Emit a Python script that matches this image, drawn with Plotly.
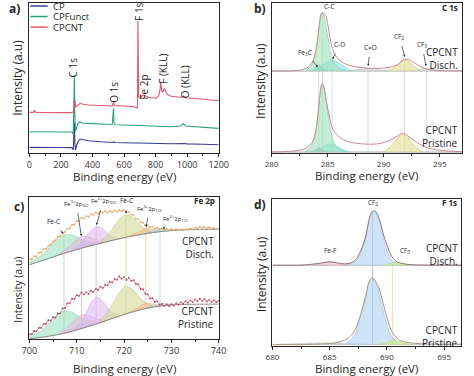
import plotly.graph_objects as go

FONT = "Open Sans"
INK = "#262626"

# ---------------- (a) survey spectra ----------------
cp_x = [0, 30, 35, 40, 100, 200, 270, 278, 282, 285, 288, 292, 300, 310, 322, 335, 350, 372, 450, 530,
        535, 540, 600, 700, 800, 900, 975, 1000, 1100, 1200]
cp_y = [5.7, 5.7, 6.2, 5.7, 5.6, 5.5, 5.4, 3.0, 18.0, 31.0, 10.0, 3.0, 8.0, 12.0, 14.0, 13.5, 12.8, 12.2, 11.3, 10.5,
        11.5, 10.5, 10.3, 9.9, 9.6, 9.3, 9.6, 9.2, 8.8, 8.3]
cpf_x = [0, 100, 200, 270, 278, 282, 285, 288, 292, 300, 310, 320, 335, 372, 450, 525, 531, 533, 536, 545,
         600, 700, 800, 900, 960, 975, 990, 1100, 1200]
cpf_y = [21.3, 21.3, 21.2, 21.1, 19.0, 50.0, 78.0, 35.0, 22.0, 26.0, 30.0, 31.3, 30.0, 29.7, 29.0, 28.5, 40.0, 44.7, 30.0, 28.3,
         28.0, 27.3, 26.8, 26.3, 27.0, 29.5, 27.0, 25.6, 24.7]
cnt_x = [0, 25, 32, 38, 45, 100, 200, 270, 280, 285, 289, 293, 300, 310, 322, 340, 372, 450, 525, 531,
         534, 538, 600, 650, 680, 685, 688, 690, 693, 700, 710, 720, 735, 760, 800, 820, 828, 833, 838, 845,
         855, 862, 875, 900, 950, 970, 978, 990, 1050, 1100, 1200]
cnt_y = [40.7, 40.7, 42.5, 40.9, 40.7, 40.6, 40.5, 40.4, 41.5, 50.0, 53.0, 46.0, 47.0, 48.5, 49.7, 48.7, 48.0, 47.5, 47.0, 49.5,
         52.0, 47.5, 47.0, 46.5, 45.5, 44.5, 132.0, 70.0, 56.0, 55.0, 56.5, 58.0, 57.0, 55.5, 54.8, 57.0, 63.0, 71.3, 63.0, 60.5,
         64.5, 62.0, 58.5, 56.8, 55.8, 55.6, 57.0, 55.2, 54.5, 53.8, 52.3]
survey_names = ["CP", "CPFunct", "CPCNT"]
survey_colors = ["#3a3d92", "#2a9f78", "#e2586c"]
survey_labels = ["C 1s", "O 1s", "F 1s", "Fe 2p", "F (KLL)", "O (KLL)"]
survey_label_x = [279, 535, 694, 724, 846, 988]
survey_label_y = [86, 61, 141, 66, 84, 71]

# ---------------- (b) C 1s ----------------
b_base_x = [280, 297]
b_dis_base = [82, 82]
b_pri_base = [1, 1]
b_dis_env_x = [280, 282, 282.87, 283.3, 283.72, 284.0, 284.24, 284.44, 284.58, 284.73, 284.87, 285.1, 285.3,
               285.59, 286.02, 286.59, 287.45, 288.88, 290.3, 291.17, 291.89, 292.32, 292.89, 293.47, 294.33, 297]
b_dis_env_y = [82, 82.3, 83.7, 86.3, 93, 106.3, 126.3, 139.7, 140.3, 139, 136.3, 123, 109.7,
               99.7, 93, 89, 86.3, 84.7, 85.3, 88, 93.7, 93, 89, 85.3, 83, 82]
b_pri_env_x = [280, 282.58, 283.3, 283.72, 284.0, 284.24, 284.44, 284.53, 284.67, 284.87, 285.16, 285.44,
               286.02, 286.88, 288.31, 289.74, 290.89, 291.6, 291.89, 292.46, 293.18, 294.04, 295.47, 297]
b_pri_env_y = [1, 3, 6.3, 13, 26.3, 49.7, 68, 69.7, 66.3, 53, 36.3, 24.7,
               16.3, 11.3, 9, 9.7, 14.7, 19.7, 19, 14.7, 9, 4.7, 2.3, 1.3]
b_cc_x = [283.0, 283.4, 283.75, 284.0, 284.2, 284.35, 284.5, 284.65, 284.8, 285.0, 285.3, 285.6, 286.0, 286.6]
b_dis_cc_y = [82.0, 85.5, 91.3, 104.0, 121.4, 134.2, 140.0, 137.7, 131.3, 116.8, 99.4, 89.5, 84.9, 82.0]
b_pri_cc_y = [1.0, 5.0, 11.7, 26.5, 46.6, 61.3, 68.0, 65.3, 58.0, 41.2, 21.1, 9.7, 4.4, 1.0]
b_fe3c_x = [283.4, 283.8, 284.0, 284.2, 284.4, 284.6, 285.0]
b_dis_fe3c_y = [82, 84.1, 87.3, 89, 87.3, 84.1, 82]
b_pri_fe3c_y = [1, 2.2, 4, 5, 4, 2.2, 1]
b_dis_co_x = [283.6, 284.3, 284.8, 285.1, 285.4, 285.7, 286.0, 286.5, 287.2]
b_dis_co_y = [82, 86.0, 90.0, 92.2, 93, 92.2, 90.0, 86.0, 82]
b_pri_co_x = [283.4, 284.1, 284.6, 284.9, 285.2, 285.5, 285.8, 286.3, 287.0]
b_pri_co_y = [1, 3.9, 6.8, 8.4, 9, 8.4, 6.8, 3.9, 1]
b_dis_c2o_x = [286.8, 287.6, 288.1, 288.6, 289.1, 289.6, 290.4]
b_dis_c2o_y = [82, 83.3, 84.1, 84.5, 84.1, 83.3, 82]
b_dis_cf2_x = [290.4, 290.9, 291.3, 291.6, 291.9, 292.2, 292.5, 292.9, 293.4]
b_dis_cf2_y = [82, 85.3, 88.8, 92.1, 93.5, 92.1, 88.8, 85.3, 82]
b_pri_cf2_x = [290.0, 290.6, 291.0, 291.35, 291.7, 292.05, 292.4, 292.8, 293.4]
b_pri_cf2_y = [1, 6.6, 11.4, 16.8, 19, 16.8, 11.4, 6.6, 1]
b_dis_cf3_x = [292.5, 293.1, 293.5, 293.8, 294.1, 294.5, 295.1]
b_dis_cf3_y = [82, 83, 84.1, 84.5, 84.1, 83, 82]
b_vl_x = [284.2, 284.55, 285.4, 288.6, 291.85, 293.8]
b_vl_top = [89, 140, 93, 85, 94, 85]
b_vl_bot = [1, 1, 1, 1, 1, 1]

# ---------------- (c) Fe 2p ----------------
c_dis_y = [79.8, 80.1, 83.0, 82.6, 86.1, 86.6, 89.8, 90.2, 93.5, 94.3,
           97.6, 98.9, 102.4, 102.9, 106.5, 107.0, 110.5, 110.6, 114.2, 114.5,
           118.0, 117.9, 121.2, 120.5, 123.0, 122.4, 124.8, 124.0, 126.6, 125.5,
           127.4, 126.2, 127.9, 126.5, 128.3, 126.9, 128.7, 127.2, 129.1, 127.7,
           128.9, 126.8, 127.2, 124.5, 123.9, 120.5, 119.7, 116.7, 116.4, 113.9,
           113.9, 111.7, 112.2, 110.4, 111.3, 109.6, 110.6, 109.1, 110.2, 108.8,
           109.9, 108.7, 109.8, 108.8, 110.0, 108.9, 110.1, 109.3, 110.7, 110.0,
           111.6, 110.8, 112.3, 111.2, 112.2, 110.9, 111.6, 110.4, 111.1, 109.9,
           110.6]
c_pri_y = [4.9, 5.0, 8.2, 8.0, 11.4, 11.2, 15.3, 15.4, 19.1, 18.6,
           22.2, 21.5, 25.6, 25.8, 30.8, 31.1, 35.7, 36.0, 40.4, 40.1,
           43.9, 43.2, 46.6, 44.7, 47.0, 45.2, 48.4, 47.0, 50.3, 49.2,
           52.4, 51.0, 54.5, 53.9, 57.4, 56.6, 60.2, 59.3, 62.6, 60.4,
           62.0, 59.2, 61.4, 58.3, 58.9, 55.0, 54.8, 50.2, 49.9, 45.3,
           44.8, 40.6, 40.9, 37.2, 37.8, 34.4, 35.1, 33.1, 34.8, 32.9,
           34.9, 33.5, 35.8, 34.4, 36.8, 35.4, 37.9, 36.3, 38.8, 37.2,
           39.6, 38.0, 40.4, 38.3, 39.9, 37.7, 39.3, 37.2, 38.9, 37.0,
           38.2]
c_x = [700 + 0.5 * i for i in range(len(c_dis_y))]
c_bg_x = [700, 702, 704, 706, 708, 710, 712, 714, 716, 718, 720, 722, 724, 726, 728, 730, 732, 734, 736, 738, 740]
c_dis_bg = [74.3, 77.5, 80.5, 83.7, 86.7, 89.5, 92.2, 94.6, 97.0, 99.3, 101.4, 103.3, 105.0, 106.5, 107.6, 108.4,
            109.0, 109.4, 109.6, 109.7, 109.8]
c_pri_bg = [0.5, 1.5, 2.8, 4.5, 6.7, 9.2, 12.0, 15.0, 18.2, 21.5, 24.6, 27.5, 30.0, 32.0, 33.4, 34.2,
            34.6, 34.8, 34.9, 35.0, 35.0]
c_fec1_x = [700, 702.3, 703.8, 705.3, 707.3, 709.3, 710.8, 712.3, 714.3, 716]
c_fe3a_x = [706.1, 707.6, 708.6, 709.9, 711.1, 712.3, 713.6, 714.6, 716.1]
c_fe2a_x = [709.6, 710.9, 711.9, 713.0, 714.1, 715.2, 716.3, 717.3, 718.6]
c_fec2_x = [714.8, 716.5, 717.6, 718.9, 720.3, 721.7, 723.0, 724.1, 725.8]
c_fe3b_x = [721.0, 722.2, 723.0, 723.8, 724.5, 725.2, 726.0, 726.8, 728.0]
c_fe2b_x = [724.1, 725.3, 726.1, 726.9, 727.6, 728.3, 729.1, 729.9, 731.1]
c_dis_base = {
    "fec1": [74.3, 77.9, 80.2, 82.5, 85.7, 88.7, 90.9, 92.6, 95.0, 97.0],
    "fe3a": [84.0, 86.1, 87.5, 89.3, 90.9, 92.5, 94.3, 95.3, 97.1],
    "fe2a": [89.9, 91.0, 92.1, 93.4, 94.7, 96.0, 97.3, 98.4, 99.9],
    "fec2": [95.5, 97.5, 98.8, 100.1, 101.7, 103.0, 104.1, 105.1, 106.4],
    "fe3b": [102.4, 103.5, 104.1, 104.7, 105.3, 105.8, 106.5, 107.0, 107.6],
    "fe2b": [105.0, 106.0, 106.6, 107.1, 107.5, 107.8, 108.2, 108.4, 108.7],
}
c_dis_h = {
    "fec1": [3.0, 4.6, 9.5, 15.1, 19, 15.1, 9.5, 4.6, 1.2, 0.2],
    "fe3a": [0.75, 3.1, 6, 10.2, 12, 10.2, 6, 3.1, 0.75],
    "fe2a": [1.1, 4.4, 9.3, 15.2, 18, 15.2, 9.3, 4.4, 1.1],
    "fec2": [1.4, 6.1, 11.8, 19.2, 23, 19.2, 11.8, 6.1, 1.4],
    "fe3b": [0.3, 1.5, 3, 4.5, 5, 4.5, 3, 1.5, 0.3],
    "fe2b": [0.2, 0.9, 1.8, 2.7, 3, 2.7, 1.8, 0.9, 0.2],
}
c_pri_base = {
    "fec1": [0.5, 1.7, 2.6, 3.9, 5.8, 8.1, 10.2, 12.4, 15.5, 18.2],
    "fe3a": [4.6, 6.1, 7.3, 8.9, 10.6, 12.4, 14.5, 16.0, 18.4],
    "fe2a": [8.7, 10.4, 11.9, 13.5, 15.2, 16.9, 18.7, 20.3, 22.5],
    "fec2": [16.3, 19.0, 20.8, 22.9, 25.1, 27.1, 28.8, 30.1, 31.8],
    "fe3b": [26.1, 27.8, 28.8, 29.8, 30.6, 31.2, 32.0, 32.6, 33.4],
    "fe2b": [30.1, 31.2, 32.0, 32.7, 33.2, 33.5, 33.9, 34.1, 34.5],
}
c_pri_h = {
    "fec1": [3.5, 5.6, 11.5, 18.3, 23, 18.3, 11.5, 5.6, 1.4, 0.2],
    "fe3a": [0.9, 3.6, 7, 11.9, 14, 11.9, 7, 3.6, 0.9],
    "fe2a": [1.7, 6.6, 13.9, 22.9, 27, 22.9, 13.9, 6.6, 1.7],
    "fec2": [1.75, 7.5, 14.4, 23.4, 28, 23.4, 14.4, 7.5, 1.75],
    "fe3b": [0.3, 1.5, 3, 4.5, 5, 4.5, 3, 1.5, 0.3],
    "fe2b": [0.2, 0.8, 1.5, 2.2, 2.5, 2.2, 1.5, 0.8, 0.2],
}
c_comp_x = {"fec1": c_fec1_x, "fe3a": c_fe3a_x, "fe2a": c_fe2a_x,
            "fec2": c_fec2_x, "fe3b": c_fe3b_x, "fe2b": c_fe2b_x}
c_comp_fill = {"fec1": "rgba(150,222,185,0.55)", "fe3a": "rgba(232,180,220,0.5)", "fe2a": "rgba(218,180,240,0.55)",
               "fec2": "rgba(212,218,150,0.6)", "fe3b": "rgba(245,185,140,0.55)", "fe2b": "rgba(160,222,232,0.55)"}
c_comp_line = {"fec1": "#9fd4b4", "fe3a": "#dab0cc", "fe2a": "#cdb0e0",
               "fec2": "#c4c88e", "fe3b": "#eab28a", "fe2b": "#9fd0da"}
c_vl_x = [707.3, 711.0, 714.1, 720.4, 724.6, 727.6]
c_vl_top = [104, 101, 113, 124, 111, 109]
c_vl_bot = [6, 10.6, 15.2, 25, 30.6, 33.2]
c_vl_col = ["#b8d8c4", "#d8c0d0", "#d0c0e0", "#d6d6b6", "#f0c8a8", "#b8e0e8"]

# ---------------- (d) F 1s ----------------
d_base_x = [680, 696.5]
d_dis_base = [80.7, 80.7]
d_pri_base = [1.5, 1.5]
d_dis_env_x = [680, 682.3, 683.7, 684.5, 685, 685.6, 686.3, 686.9, 687.3, 687.7, 688.2, 688.4, 688.7, 688.9,
               689.1, 689.4, 689.7, 690.1, 690.4, 690.8, 691.5, 692.6, 696.5]
d_dis_env_y = [80.7, 80.7, 82, 83.3, 84, 83.3, 82, 83.3, 86.3, 94.7, 111.3, 124.7, 134, 135.3,
               133, 124.7, 111.3, 98, 89.7, 84.7, 82, 81, 80.7]
d_pri_env_x = [680, 683.7, 685.9, 686.8, 687.3, 687.7, 688.2, 688.4, 688.7, 688.9, 689.3, 689.7, 690.1,
               690.5, 691.2, 692.3, 696.5]
d_pri_env_y = [1.3, 1.7, 4, 9.7, 18, 31.3, 51.3, 63, 68, 66.3, 58, 41.3, 24.7, 13, 5.3, 2.7, 1.7]
d_dis_cf2_x = [686.5, 687.3, 687.8, 688.2, 688.5, 688.7, 688.9, 689.1, 689.3, 689.6, 690.0, 690.5, 691.3]
d_dis_cf2_y = [80.7, 85.0, 95.3, 112.6, 126.1, 132.5, 134.7, 132.5, 126.1, 112.6, 95.3, 85.0, 80.7]
d_pri_cf2_x = [686.35, 687.15, 687.65, 688.05, 688.35, 688.55, 688.75, 688.95, 689.15, 689.45, 689.85, 690.35, 691.15]
d_pri_cf2_y = [1.5, 10.7, 27.9, 47.0, 59.9, 65.5, 67.5, 65.5, 59.9, 47.0, 27.9, 10.7, 1.5]
d_dis_cf3_x = [689.7, 690.2, 690.6, 690.9, 691.2, 691.6, 692.1]
d_dis_cf3_y = [80.7, 82.05, 83.25, 83.7, 83.25, 82.05, 80.7]
d_pri_cf3_x = [689.4, 690.0, 690.4, 690.7, 691.0, 691.4, 692.0]
d_pri_cf3_y = [1.5, 3.3, 4.9, 5.5, 4.9, 3.3, 1.5]
d_dis_fef_x = [683.4, 684.2, 684.6, 685.0, 685.4, 685.8, 686.6]
d_dis_fef_y = [80.7, 82.2, 83.5, 84.0, 83.5, 82.2, 80.7]
d_pri_fef_x = [680.5, 682.0, 683.5, 684.5, 685.5, 687.0, 688.5]
d_pri_fef_y = [1.5, 2.2, 2.8, 3.0, 2.8, 2.2, 1.5]
d_vl_x = [688.75, 690.5]
d_vl_top = [135, 84]
d_vl_bot = [1.5, 1.5]
d_vl_col = ["#b0bccc", "#e8e2a0"]

# ======================================================
fig = go.Figure()


def line(x, y, ax, color, width=1.0, shape="linear", dash=None):
    fig.add_trace(go.Scatter(x=x, y=y, mode="lines", xaxis="x" + ax, yaxis="y" + ax,
                             line=dict(color=color, width=width, shape=shape, dash=dash),
                             showlegend=False, hoverinfo="skip"))


def area(x, y, ax, fill, color):
    fig.add_trace(go.Scatter(x=x, y=y, mode="lines", xaxis="x" + ax, yaxis="y" + ax, fill="toself",
                             fillcolor=fill, line=dict(color=color, width=0.6, shape="spline"),
                             showlegend=False, hoverinfo="skip"))


def band(x, base, h, ax, fill, color):
    top = [b + v for b, v in zip(base, h)]
    fig.add_trace(go.Scatter(x=x + x[::-1], y=top + base[::-1], mode="lines", xaxis="x" + ax, yaxis="y" + ax,
                             fill="toself", fillcolor=fill, line=dict(color=color, width=0.6),
                             showlegend=False, hoverinfo="skip"))


# (a)
for xs, ys, col in zip([cp_x, cpf_x, cnt_x], [cp_y, cpf_y, cnt_y], survey_colors):
    line(xs, ys, "", col, 1.1)

# (b)
for vx, vt, vb in zip(b_vl_x, b_vl_top, b_vl_bot):
    line([vx, vx], [vb, vt], "2", "#d4d4d4", 0.8)
line(b_base_x, b_dis_base, "2", "#9a9a9a", 0.8)
line(b_base_x, b_pri_base, "2", "#9a9a9a", 0.8)
area(b_dis_co_x, b_dis_co_y, "2", "rgba(120,222,232,0.55)", "#7cccd6")
area(b_pri_co_x, b_pri_co_y, "2", "rgba(120,222,232,0.55)", "#7cccd6")
area(b_fe3c_x, b_dis_fe3c_y, "2", "rgba(130,175,170,0.5)", "#8ab0aa")
area(b_fe3c_x, b_pri_fe3c_y, "2", "rgba(150,160,160,0.45)", "#a0a8a8")
area(b_cc_x, b_dis_cc_y, "2", "rgba(160,225,185,0.6)", "#86c89e")
area(b_cc_x, b_pri_cc_y, "2", "rgba(160,225,185,0.6)", "#86c89e")
area(b_dis_c2o_x, b_dis_c2o_y, "2", "rgba(200,200,200,0.5)", "#c0c0c0")
area(b_dis_cf2_x, b_dis_cf2_y, "2", "rgba(228,224,150,0.65)", "#cfc680")
area(b_pri_cf2_x, b_pri_cf2_y, "2", "rgba(228,224,150,0.65)", "#cfc680")
area(b_dis_cf3_x, b_dis_cf3_y, "2", "rgba(205,205,205,0.5)", "#c0c0c0")
line(b_dis_env_x, b_dis_env_y, "2", "#c58a92", 1.0, "spline")
line(b_pri_env_x, b_pri_env_y, "2", "#c58a92", 1.0, "spline")

# (c)
for vx, vt, vb, vc in zip(c_vl_x, c_vl_top, c_vl_bot, c_vl_col):
    line([vx, vx], [vb, vt], "3", vc, 0.9)
for key in ["fec1", "fe3a", "fe2a", "fec2", "fe3b", "fe2b"]:
    band(c_comp_x[key], c_dis_base[key], c_dis_h[key], "3", c_comp_fill[key], c_comp_line[key])
    band(c_comp_x[key], c_pri_base[key], c_pri_h[key], "3", c_comp_fill[key], c_comp_line[key])
line(c_bg_x, c_dis_bg, "3", "#8c8282", 0.9, "spline")
line(c_bg_x, c_pri_bg, "3", "#8c8282", 0.9, "spline")
fig.add_trace(go.Scatter(x=c_x, y=c_dis_y, mode="lines+markers", xaxis="x3", yaxis="y3",
                         line=dict(color="#d9b98a", width=0.8), marker=dict(color="#e6a65c", size=1.8),
                         showlegend=False, hoverinfo="skip"))
fig.add_trace(go.Scatter(x=c_x, y=c_pri_y, mode="lines+markers", xaxis="x3", yaxis="y3",
                         line=dict(color="#c9788a", width=0.8), marker=dict(color="#b8455a", size=1.8),
                         showlegend=False, hoverinfo="skip"))

# (d)
for vx, vt, vb, vc in zip(d_vl_x, d_vl_top, d_vl_bot, d_vl_col):
    line([vx, vx], [vb, vt], "4", vc, 0.9)
line(d_base_x, d_dis_base, "4", "#a0a0a0", 0.8)
line(d_base_x, d_pri_base, "4", "#b0b0b0", 0.8)
area(d_pri_fef_x, d_pri_fef_y, "4", "rgba(190,195,195,0.5)", "#c0c4c4")
area(d_dis_fef_x, d_dis_fef_y, "4", "rgba(235,170,185,0.5)", "#e0a0b0")
area(d_dis_cf2_x, d_dis_cf2_y, "4", "rgba(180,212,240,0.65)", "#9ebfe0")
area(d_pri_cf2_x, d_pri_cf2_y, "4", "rgba(180,212,240,0.65)", "#9ebfe0")
area(d_dis_cf3_x, d_dis_cf3_y, "4", "rgba(205,235,130,0.65)", "#c0dc80")
area(d_pri_cf3_x, d_pri_cf3_y, "4", "rgba(205,235,130,0.65)", "#c0dc80")
line(d_dis_env_x, d_dis_env_y, "4", "#8f7480", 1.0, "spline")
line(d_pri_env_x, d_pri_env_y, "4", "#a89a8c", 1.0, "spline")

# ---------------- axes ----------------
def xax(domain, anchor, rng, dtick, minor, size):
    return dict(domain=domain, anchor=anchor, range=rng, dtick=dtick, showgrid=False, zeroline=False,
                showline=True, mirror=True, linecolor=INK, linewidth=1, ticks="outside", ticklen=3,
                tickcolor=INK, tickwidth=1, tickfont=dict(family=FONT, size=size, color="#333"),
                minor=dict(dtick=minor, ticks="outside", ticklen=2, tickcolor=INK), fixedrange=True)


def yax(domain, anchor, rng):
    return dict(domain=domain, anchor=anchor, range=rng, showgrid=False, zeroline=False, showline=True,
                mirror=True, linecolor=INK, linewidth=1, ticks="", showticklabels=False, fixedrange=True)


fig.update_layout(
    width=474, height=376, margin=dict(l=0, r=0, t=0, b=0),
    paper_bgcolor="white", plot_bgcolor="white", showlegend=False,
    xaxis=xax([0.047, 0.462], "y", [0, 1200], 200, 100, 9),
    yaxis=yax([0.593, 0.992], "x", [0, 150]),
    xaxis2=xax([0.578, 0.996], "y2", [280, 297], 5, 2.5, 8),
    yaxis2=yax([0.593, 0.992], "x2", [0, 150]),
    xaxis3=xax([0.047, 0.462], "y3", [700, 740], 10, 5, 9),
    yaxis3=yax([0.098, 0.476], "x3", [0, 142]),
    xaxis4=xax([0.580, 0.994], "y4", [680, 696.5], 5, 2.5, 8),
    yaxis4=yax([0.080, 0.471], "x4", [0, 147]),
)

# ---------------- annotations ----------------
anns = []


def txt(text, x, y, xr="paper", yr="paper", size=8, bold=False, **kw):
    d = dict(text=("<b>%s</b>" % text) if bold else text, x=x, y=y, xref=xr, yref=yr, showarrow=False,
             xanchor="center", yanchor="middle", font=dict(family=FONT, size=size, color=INK))
    d.update(kw)
    anns.append(d)


def arr(text, x, y, tx, ty, a, size=6.5):
    anns.append(dict(text=text, x=x, y=y, ax=tx, ay=ty, xref="x" + a, yref="y" + a, axref="x" + a,
                     ayref="y" + a, showarrow=True, arrowhead=2, arrowsize=0.6, arrowwidth=0.7,
                     arrowcolor=INK, standoff=1, startstandoff=4, font=dict(family=FONT, size=size, color=INK)))


# panel letters
txt("a)", 0.015, 0.978, size=12, bold=True)
txt("b)", 0.553, 0.978, size=12, bold=True)
txt("c)", 0.024, 0.452, size=12, bold=True)
txt("d)", 0.553, 0.455, size=12, bold=True)

# axis titles
txt("Binding energy (eV)", 0.2545, 0.530, size=11.5)
txt("Binding energy (eV)", 0.787, 0.533, size=11.5)
txt("Binding energy (eV)", 0.2545, 0.021, size=11.5)
txt("Binding energy (eV)", 0.787, 0.021, size=11.5)
txt("Intensity (a.u)", 0.021, 0.792, size=12, textangle=-90)
txt("Intensity (a.u)", 0.555, 0.785, size=12, textangle=-90)
txt("Intensity (a.u)", 0.023, 0.231, size=10.5, textangle=-90)
txt("Intensity (a.u)", 0.555, 0.271, size=12, textangle=-90)

# legend for (a)
legend_y = [0.984, 0.956, 0.928]
shapes = []
for name, col, ly in zip(survey_names, survey_colors, legend_y):
    shapes.append(dict(type="line", xref="paper", yref="paper", x0=0.049, x1=0.087, y0=ly, y1=ly,
                       line=dict(color=col, width=1.5)))
    txt(name, 0.095, ly, size=9.5, xanchor="left")

# survey labels
for lab, lx, ly in zip(survey_labels, survey_label_x, survey_label_y):
    txt(lab, lx, ly, "x", "y", size=10, textangle=-90)

# (b) labels
arr("C-C", 284.6, 140.5, 285.1, 146.5, "2")
arr("Fe<sub>3</sub>C", 284.2, 85, 283.0, 101, "2")
arr("C-O", 285.4, 93, 286.1, 109, "2")
arr("C=O", 288.6, 86, 288.8, 106, "2")
arr("CF<sub>2</sub>", 291.9, 95, 291.4, 117, "2")
arr("CF<sub>3</sub>", 293.8, 86, 293.4, 109, "2")
txt("C 1s", 296.8, 146, "x2", "y2", size=8, bold=True, xanchor="right")
txt("CPCNT<br>Disch.", 0.992, 94.7, "paper", "y2", size=10, xanchor="right", align="right")
txt("CPCNT<br>Pristine", 0.992, 16.3, "paper", "y2", size=10, xanchor="right", align="right")

# (c) labels
arr("Fe-C", 707.3, 104.5, 705.0, 118, "3")
arr("Fe<sup>3+</sup>2p<sub>3/2</sub>", 711.0, 102, 709.9, 136, "3", 6)
arr("Fe<sup>2+</sup>2p<sub>3/2</sub>", 714.1, 113, 715.6, 138.5, "3", 6)
arr("Fe-C", 720.4, 124.5, 720.5, 138.5, "3")
arr("Fe<sup>3+</sup>2p<sub>1/2</sub>", 724.6, 111, 725.4, 131, "3", 6)
arr("Fe<sup>2+</sup>2p<sub>1/2</sub>", 728.0, 109.5, 730.9, 121, "3", 6)
txt("Fe 2p", 739.6, 138.5, "x3", "y3", size=8, bold=True, xanchor="right")
txt("CPCNT<br>Disch.", 0.457, 91.9, "paper", "y3", size=10, xanchor="right", align="right")
txt("CPCNT<br>Pristine", 0.457, 21.9, "paper", "y3", size=10, xanchor="right", align="right")

# (d) labels
arr("CF<sub>2</sub>", 688.85, 136, 688.8, 143.5, "4")
arr("Fe-F", 685.05, 85.5, 685.1, 95.5, "4")
arr("CF<sub>3</sub>", 690.9, 85.5, 691.6, 95.5, "4")
txt("F 1s", 696.3, 143, "x4", "y4", size=8, bold=True, xanchor="right")
txt("CPCNT<br>Disch.", 0.992, 91.3, "paper", "y4", size=10, xanchor="right", align="right")
txt("CPCNT<br>Pristine", 0.992, 9.0, "paper", "y4", size=10, xanchor="right", align="right")

fig.update_layout(annotations=anns, shapes=shapes)
fig.write_html("out.html")
